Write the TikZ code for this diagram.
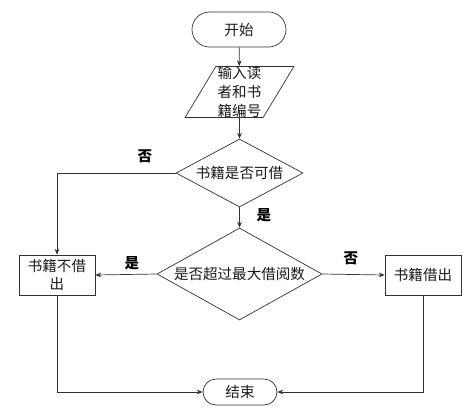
\documentclass[tikz,border=0pt]{standalone}
\usepackage{fontspec}
\setmainfont{Noto Sans CJK SC}
\usetikzlibrary{shapes.geometric,shapes.misc,arrows.meta}

\tikzset{
	line/.style={draw=black!80, line width=0.6pt},
	flow/.style={line, -{Stealth[length=5pt,width=4pt]}},
	txt/.style={font=\fontsize{12.4}{15}\selectfont, text=black!90},
	terminal/.style={line, txt, rounded rectangle, inner sep=0pt},
	inout/.style={line, txt, trapezium, trapezium left angle=61, trapezium right angle=119,
		trapezium stretches=true, align=center, inner sep=0pt, font=\fontsize{12.4}{16}\selectfont},
	decide/.style={line, txt, diamond, inner sep=0pt},
	process/.style={line, txt, rectangle, align=center, inner sep=0pt},
	yesno/.style={font=\fontsize{12.4}{15}\selectfont\bfseries, text=black}
}

\begin{document}
\begin{tikzpicture}[x=0.03cm, y=-0.03cm]
		\useasboundingbox (0,0) rectangle (474,410);
		\def\u{0.03}
		% flow nodes
		\node[terminal, minimum width=94*\u cm, minimum height=35*\u cm] (start) at (239,29.5) {开始};
		\node[inout, minimum width=109*\u cm, minimum height=46*\u cm] (input) at (239.5,92) {输入读\\者和书\\籍编号};
		\node[decide, shape aspect=1.87, minimum width=127*\u cm, minimum height=68*\u cm] (canborrow) at (239.5,173) {书籍是否可借};
		\node[decide, shape aspect=1.8, minimum width=165*\u cm, minimum height=92*\u cm] (overlimit) at (239.5,274) {是否超过最大借阅数};
		\node[process, minimum width=76*\u cm, minimum height=40*\u cm] (refuse) at (57,275) {书籍不借\\出};
		\node[process, minimum width=76*\u cm, minimum height=40*\u cm] (lend) at (423,275) {书籍借出};
		\node[terminal, minimum width=74*\u cm, minimum height=26*\u cm] (stop) at (240,392) {结束};

		% branch labels
		\node[yesno] (lblyes1) at (264,215) {是};
		\node[yesno] (lblno1) at (145,156) {否};
		\node[yesno] (lblyes2) at (132,263) {是};
		\node[yesno] (lblno2) at (351,258) {否};

		% connectors
		\draw[flow] (start) -- (input);
		\draw[flow] (input) -- (canborrow);
		\draw[flow] (canborrow) -- (overlimit);
		\draw[flow] (canborrow.west) -| (refuse.north);
		\draw[flow] (overlimit.west) -- (refuse.east);
		\draw[flow] (overlimit.east) -- (lend.west);
		\draw[flow] (refuse.south) |- (stop.west);
		\draw[flow] (lend.south) |- (stop.east);
	\end{tikzpicture}
\end{document}
